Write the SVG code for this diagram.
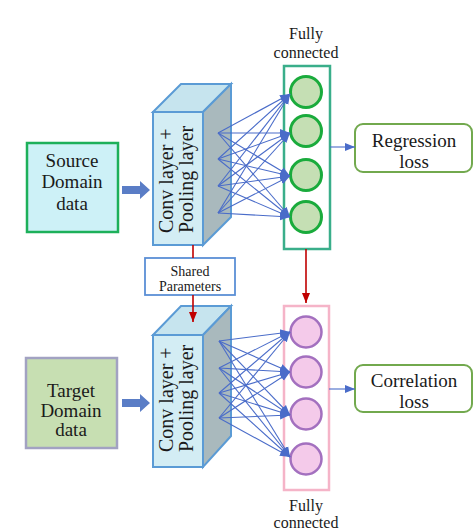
<svg xmlns="http://www.w3.org/2000/svg" width="474" height="530" viewBox="0 0 474 530">
<style>
text{font-family:"Liberation Serif","Times New Roman",serif;fill:#1a1a1a}
.lbl{font-size:19px;text-anchor:middle}
.fc{font-size:16px;text-anchor:middle}
.cube{font-size:20px}
.front{fill:#d3edf4;stroke:#5b9bd5;stroke-width:2}
.top{fill:#c6e4ee;stroke:#5b9bd5;stroke-width:2}
.side{fill:#a9b9bd;stroke:#5b9bd5;stroke-width:2}
.conn line{stroke:#4a6cc9;stroke-width:1.1;marker-end:url(#ah)}
.blk{fill:#5a7dc6}
.red{stroke:#c00000;stroke-width:1.6;fill:none}
.gc{fill:#c5dfb4;stroke:#1aab3c;stroke-width:3}
.pc{fill:#f4caea;stroke:#a370bf;stroke-width:2.5}
.loss{fill:#fff;stroke:#72a94e;stroke-width:2}
</style>
<defs>
<marker id="ah" markerUnits="userSpaceOnUse" markerWidth="10" markerHeight="10" viewBox="0 0 10 10" refX="10" refY="5" orient="auto">
<path d="M0,1 L10,5 L0,9 Z" fill="#4a6cc9"/>
</marker>
<marker id="rh" markerUnits="userSpaceOnUse" markerWidth="10" markerHeight="10" viewBox="0 0 10 10" refX="10" refY="5" orient="auto">
<path d="M0,1 L10,5 L0,9 Z" fill="#c00000"/>
</marker>
</defs>

<g id="source">
<rect x="27" y="143" width="91" height="89" fill="#cdf1f7" stroke="#1db05a" stroke-width="2.5"/>
<text class="lbl" x="72" y="167">Source</text>
<text class="lbl" x="72" y="188">Domain</text>
<text class="lbl" x="72" y="210">data</text>
</g>

<g id="target">
<rect x="26" y="358" width="91" height="90" fill="#c7dfb2" stroke="#a2a2c2" stroke-width="2.5"/>
<text class="lbl" x="71" y="397">Target</text>
<text class="lbl" x="71" y="417">Domain</text>
<text class="lbl" x="71" y="436">data</text>
</g>

<g id="cube1">
<polygon class="top" points="153,112 181,84 231,84 203,112"/>
<polygon class="side" points="203,112 231,84 231,217 203,245"/>
<rect class="front" x="153" y="112" width="50" height="133"/>
<text class="cube" transform="translate(173,233) rotate(-90)">Conv layer +</text>
<text class="cube" transform="translate(193,233) rotate(-90)">Pooling layer</text>
</g>

<g id="cube2">
<polygon class="top" points="153,335 181,306 231,306 203,335"/>
<polygon class="side" points="203,335 231,306 231,436 203,467"/>
<rect class="front" x="153" y="335" width="50" height="132"/>
<text class="cube" transform="translate(173,452) rotate(-90)">Conv layer +</text>
<text class="cube" transform="translate(193,452) rotate(-90)">Pooling layer</text>
</g>

<g id="shared">
<rect x="145" y="258" width="90" height="37" fill="#fff" stroke="#5b8fd5" stroke-width="1.8"/>
<text x="190" y="276" font-size="14" text-anchor="middle">Shared</text>
<text x="190" y="291" font-size="14" text-anchor="middle">Parameters</text>
</g>

<g id="fc1">
<rect x="284" y="66" width="46" height="183" fill="#fff" stroke="#3aae8a" stroke-width="2.5"/>
<circle class="gc" cx="306" cy="92" r="15.5"/>
<circle class="gc" cx="306" cy="131" r="15.5"/>
<circle class="gc" cx="306" cy="175" r="15.5"/>
<circle class="gc" cx="306" cy="217" r="15.5"/>
<text class="fc" x="306" y="39">Fully</text>
<text class="fc" x="306" y="58">connected</text>
</g>

<g id="fc2">
<rect x="284" y="306" width="45" height="184" fill="#fff" stroke="#f5b4c8" stroke-width="2.5"/>
<circle class="pc" cx="306" cy="332" r="15.5"/>
<circle class="pc" cx="306" cy="372" r="15.5"/>
<circle class="pc" cx="306" cy="414" r="15.5"/>
<circle class="pc" cx="306" cy="459" r="15.5"/>
<text class="fc" x="306" y="511">Fully</text>
<text class="fc" x="306" y="528">connected</text>
</g>

<g id="regression">
<rect class="loss" x="355" y="124" width="117" height="48" rx="8"/>
<text class="lbl" x="414" y="147">Regression</text>
<text class="lbl" x="414" y="168">loss</text>
</g>

<g id="correlation">
<rect class="loss" x="355" y="365" width="117" height="47" rx="8"/>
<text class="lbl" x="414" y="387">Correlation</text>
<text class="lbl" x="414" y="408">loss</text>
</g>

<g id="connectors">
<path class="blk" d="M122,186 H140 V181 L150,190 L140,199 V194 H122 Z"/>
<path class="blk" d="M122,399 H140 V394 L150,403 L140,412 V407 H122 Z"/>
<g class="conn">
<line x1="218" y1="133" x2="290" y2="94"/>
<line x1="218" y1="133" x2="290" y2="133"/>
<line x1="218" y1="133" x2="290" y2="176"/>
<line x1="218" y1="133" x2="290" y2="217"/>
<line x1="218" y1="159" x2="290" y2="94"/>
<line x1="218" y1="159" x2="290" y2="133"/>
<line x1="218" y1="159" x2="290" y2="176"/>
<line x1="218" y1="159" x2="290" y2="217"/>
<line x1="218" y1="186" x2="290" y2="94"/>
<line x1="218" y1="186" x2="290" y2="133"/>
<line x1="218" y1="186" x2="290" y2="176"/>
<line x1="218" y1="186" x2="290" y2="217"/>
<line x1="218" y1="213" x2="290" y2="94"/>
<line x1="218" y1="213" x2="290" y2="133"/>
<line x1="218" y1="213" x2="290" y2="176"/>
<line x1="218" y1="213" x2="290" y2="217"/>
<line x1="219" y1="341" x2="290" y2="332"/>
<line x1="219" y1="341" x2="290" y2="372"/>
<line x1="219" y1="341" x2="290" y2="415"/>
<line x1="219" y1="341" x2="290" y2="457"/>
<line x1="219" y1="368" x2="290" y2="332"/>
<line x1="219" y1="368" x2="290" y2="372"/>
<line x1="219" y1="368" x2="290" y2="415"/>
<line x1="219" y1="368" x2="290" y2="457"/>
<line x1="219" y1="393" x2="290" y2="332"/>
<line x1="219" y1="393" x2="290" y2="372"/>
<line x1="219" y1="393" x2="290" y2="415"/>
<line x1="219" y1="393" x2="290" y2="457"/>
<line x1="219" y1="418" x2="290" y2="332"/>
<line x1="219" y1="418" x2="290" y2="372"/>
<line x1="219" y1="418" x2="290" y2="415"/>
<line x1="219" y1="418" x2="290" y2="457"/>
<line x1="330" y1="147" x2="355" y2="147"/>
<line x1="329" y1="389" x2="355" y2="389"/>
</g>
<line class="red" x1="193" y1="245" x2="193" y2="258"/>
<line class="red" x1="193" y1="295" x2="193" y2="322" marker-end="url(#rh)"/>
<line class="red" x1="306" y1="249" x2="306" y2="303" marker-end="url(#rh)"/>
</g>
</svg>
